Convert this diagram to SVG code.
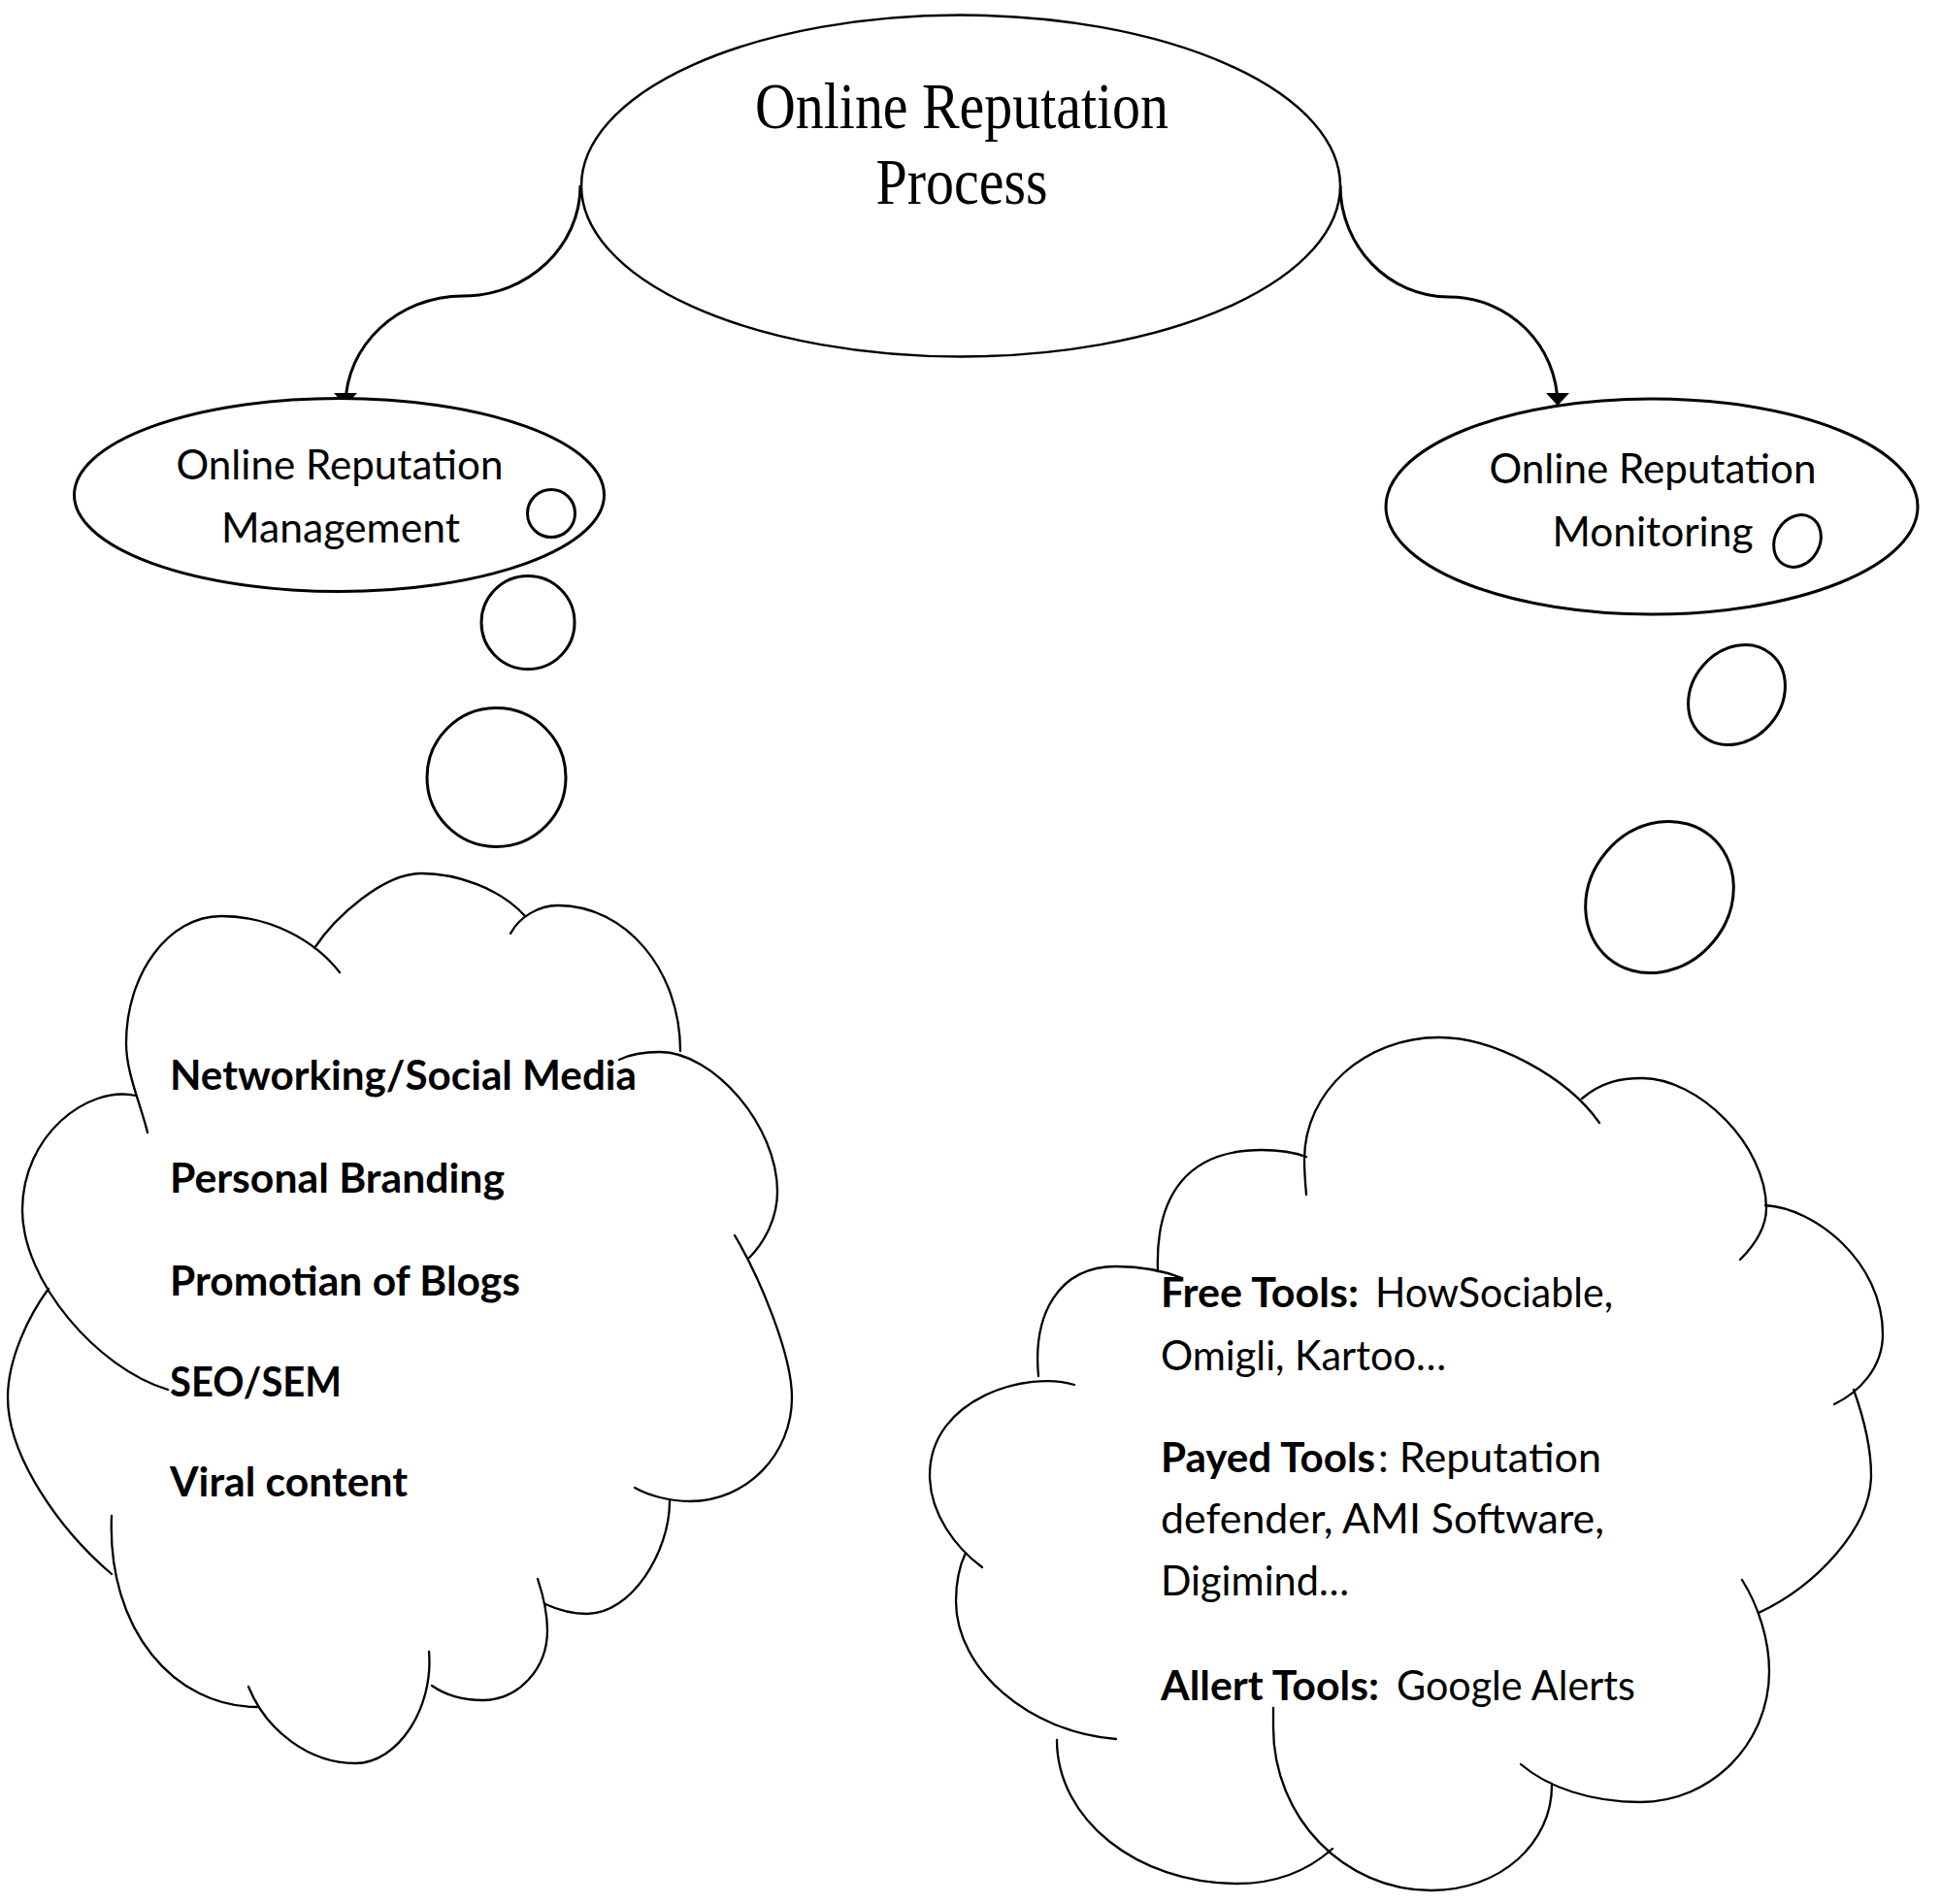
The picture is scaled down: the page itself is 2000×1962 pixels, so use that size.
<svg xmlns="http://www.w3.org/2000/svg" width="2000" height="1962" viewBox="0 0 2000 1962">
  <style>
    .shape { fill: #fff; stroke: #000; }
    .cloud { fill: none; stroke: #000; stroke-width: 2.3; stroke-linecap: round; }
    .link { fill: none; stroke: #000; stroke-width: 3; }
    .title { font-family: "Liberation Serif", serif; font-size: 68px; fill: #000; }
    .label { font-family: Lato, "Liberation Sans", sans-serif; font-size: 42px; fill: #000; }
    .item { font-family: Lato, "Liberation Sans", sans-serif; font-size: 42px; font-weight: bold; fill: #000; }
    .b { font-weight: bold; }
  </style>
  <defs>
    <marker id="arrow" viewBox="0 0 13 24" refX="13" refY="12" markerWidth="13" markerHeight="24" markerUnits="userSpaceOnUse" orient="auto">
      <path d="M0,0 L13,12 L0,24 Z" fill="#000"/>
    </marker>
  </defs>
  <rect width="2000" height="1962" fill="#fff"/>

  <!-- connectors from the process ellipse to its two branches -->
  <g id="connectors">
    <path class="link" d="M598,191 C598,254 544,305 477,305 C410,305 356,356 356,418" marker-end="url(#arrow)"/>
    <path class="link" d="M1381,191 C1381,254 1431,306 1493,306 C1555,306 1605,356 1605,418" marker-end="url(#arrow)"/>
  </g>

  <g id="node-process">
    <ellipse class="shape" cx="990" cy="191.5" rx="391" ry="176" stroke-width="2.5"/>
    <text class="title" x="991" y="132" text-anchor="middle" textLength="426" lengthAdjust="spacingAndGlyphs">Online Reputation</text>
    <text class="title" x="991" y="210" text-anchor="middle" textLength="177" lengthAdjust="spacingAndGlyphs">Process</text>
  </g>

  <g id="node-management">
    <ellipse class="shape" cx="349.5" cy="510" rx="273" ry="99.5" stroke-width="3"/>
    <text class="label" x="350" y="494" text-anchor="middle" textLength="337" lengthAdjust="spacingAndGlyphs">Online Reputation</text>
    <text class="label" x="351" y="559" text-anchor="middle" textLength="246" lengthAdjust="spacingAndGlyphs">Management</text>
    <!-- thought bubbles trailing down to the cloud -->
    <circle class="shape" cx="568" cy="529" r="24.5" stroke-width="3"/>
    <circle class="shape" cx="544" cy="641.5" r="48" stroke-width="3"/>
    <circle class="shape" cx="511.5" cy="801" r="71.5" stroke-width="3"/>
  </g>

  <g id="node-monitoring">
    <ellipse class="shape" cx="1702" cy="522" rx="274" ry="111" stroke-width="3"/>
    <text class="label" x="1703" y="498" text-anchor="middle" textLength="337" lengthAdjust="spacingAndGlyphs">Online Reputation</text>
    <text class="label" x="1703" y="563" text-anchor="middle" textLength="207" lengthAdjust="spacingAndGlyphs">Monitoring</text>
    <ellipse class="shape" cx="1852" cy="557.5" rx="23" ry="28" transform="rotate(30 1852 557.5)" stroke-width="3"/>
    <ellipse class="shape" cx="1789.5" cy="716" rx="46" ry="55" transform="rotate(40 1789.5 716)" stroke-width="3"/>
    <ellipse class="shape" cx="1710" cy="924.5" rx="72" ry="82" transform="rotate(40 1710 924.5)" stroke-width="3"/>
  </g>

  <g id="cloud-management">
    <path class="cloud" d="
      M152,1167 C144,1135 130,1105 130,1075 C130,1003 174,944 228,944 C280,944 325,970 350,1002
      M324,977 C345,945 395,900 434,900 C470,900 515,915 541,944
      M526,962 C535,945 555,933 575,933 C645,933 701,1000 701,1083
      M638,1092 C650,1086 665,1084 680,1084 C735,1084 801,1160 801,1228 C801,1255 788,1280 772,1296
      M757,1273 C782,1315 816,1395 816,1440 C816,1499 769,1547 711,1547 C690,1547 668,1541 654,1533
      M690,1547 C690,1600 650,1663 605,1663 C590,1663 575,1659 562,1653
      M554,1627 C560,1645 564,1662 564,1680 C564,1720 534,1752 497,1752 C475,1752 458,1746 445,1737
      M442,1702 C447,1760 410,1817 366,1817 C320,1817 275,1785 256,1738
      M115,1562 C110,1680 180,1759 265,1759
      M50,1328 C30,1355 8,1400 8,1440 C8,1500 60,1575 115,1622
      M140,1129 C90,1118 23,1170 23,1247 C23,1320 100,1410 173,1432"/>
    <text class="item" x="175" y="1123" textLength="481" lengthAdjust="spacingAndGlyphs">Networking/Social Media</text>
    <text class="item" x="175" y="1229" textLength="345" lengthAdjust="spacingAndGlyphs">Personal Branding</text>
    <text class="item" x="175" y="1335" textLength="361" lengthAdjust="spacingAndGlyphs">Promotian of Blogs</text>
    <text class="item" x="175" y="1439" textLength="177" lengthAdjust="spacingAndGlyphs">SEO/SEM</text>
    <text class="item" x="175" y="1542" textLength="245" lengthAdjust="spacingAndGlyphs">Viral content</text>
  </g>

  <g id="cloud-monitoring">
    <path class="cloud" d="
      M1346,1231 C1345,1220 1344,1207 1344,1195 C1344,1125 1406,1069 1483,1069 C1540,1069 1615,1110 1648,1157
      M1630,1132 C1650,1115 1670,1111 1692,1111 C1750,1111 1820,1180 1820,1245 C1820,1265 1808,1283 1793,1298
      M1819,1242 C1870,1245 1940,1300 1940,1375 C1940,1410 1915,1435 1890,1447
      M1910,1432 C1920,1460 1928,1490 1928,1520 C1928,1575 1870,1635 1812,1662
      M1795,1628 C1812,1655 1823,1690 1823,1722 C1823,1797 1763,1857 1690,1857 C1640,1857 1595,1842 1567,1818
      M1599,1838 C1600,1900 1545,1948 1475,1948 C1385,1948 1312,1873 1312,1780 L1312,1760
      M1373,1905 C1345,1930 1310,1941 1275,1941 C1172,1941 1089,1875 1089,1793
      M1070,1418 C1064,1355 1090,1305 1150,1305 C1180,1305 1200,1310 1218,1317
      M1193,1310 C1190,1230 1225,1185 1300,1185 C1320,1185 1335,1188 1346,1192
      M1107,1427 C1060,1412 958,1440 958,1520 C958,1560 985,1595 1012,1615
      M995,1600 C988,1615 985,1632 985,1650 C985,1720 1060,1785 1150,1792"/>
    <text class="label" y="1347"><tspan class="b" x="1196" textLength="204" lengthAdjust="spacingAndGlyphs">Free Tools:</tspan><tspan x="1417" textLength="245" lengthAdjust="spacingAndGlyphs">HowSociable,</tspan></text>
    <text class="label" x="1196" y="1412" textLength="294" lengthAdjust="spacingAndGlyphs">Omigli, Kartoo…</text>
    <text class="label" y="1517"><tspan class="b" x="1196" textLength="221" lengthAdjust="spacingAndGlyphs">Payed Tools</tspan><tspan x="1420" textLength="230" lengthAdjust="spacingAndGlyphs">: Reputation</tspan></text>
    <text class="label" x="1196" y="1580" textLength="457" lengthAdjust="spacingAndGlyphs">defender, AMI Software,</text>
    <text class="label" x="1196" y="1644" textLength="194" lengthAdjust="spacingAndGlyphs">Digimind…</text>
    <text class="label" y="1752"><tspan class="b" x="1196" textLength="225" lengthAdjust="spacingAndGlyphs">Allert Tools:</tspan><tspan x="1439" textLength="246" lengthAdjust="spacingAndGlyphs">Google Alerts</tspan></text>
  </g>
</svg>
